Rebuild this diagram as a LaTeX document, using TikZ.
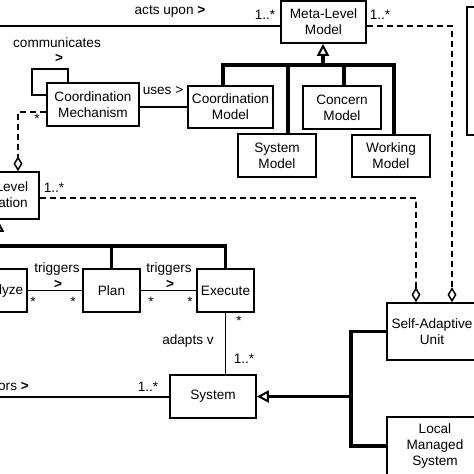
\documentclass[tikz,border=0pt]{standalone}
\usepackage{fontspec}
\setmainfont{Liberation Sans}
\usetikzlibrary{arrows.meta}
\newcommand{\diafont}{\fontsize{13.6}{16}\selectfont}
\begin{document}
\begin{tikzpicture}[x=1pt,y=-1pt,
  box/.style={draw, line width=1.6pt, inner sep=0pt, align=center, font=\diafont},
  lbl/.style={inner sep=0pt, font=\diafont},
  thin/.style={line width=1.6pt},
  thk/.style={line width=3.2pt},
  dsh/.style={line width=1.6pt, dash pattern=on 6pt off 4pt},
  agg/.style={-{Diamond[open, length=15pt, width=9pt, line width=1.5pt]}},
  gen/.style={-{Triangle[open, length=12pt, width=12pt, line width=2pt]}}]
\useasboundingbox (0,0) rectangle (474,474);
\clip (0,0) rectangle (474,474);
% boxes
\node[box, minimum width=85pt, minimum height=42pt] (mlm) at (323.5,22) {Meta-Level\\Model};
\node[box, minimum width=92pt, minimum height=43pt] (cmech) at (93,104.5) {Coordination\\Mechanism};
\node[box, minimum width=85pt, minimum height=42pt] (cmod) at (230.5,107) {Coordination\\Model};
\node[box, minimum width=78pt, minimum height=43pt] (conc) at (342,107.5) {Concern\\Model};
\node[box, minimum width=78pt, minimum height=43pt] (smod) at (277,155.5) {System\\Model};
\node[box, minimum width=78pt, minimum height=42pt] (wmod) at (391,156) {Working\\Model};
\node[box, minimum width=89pt, minimum height=47pt] (mla) at (-5.5,195.5) {Meta-Level\\Application};
\node[box, minimum width=30pt, minimum height=128pt] (rbox) at (482,71) {};
\node[box, minimum width=56pt, minimum height=43pt] (ana) at (-1,290.5) {Analyze};
\node[box, minimum width=57pt, minimum height=43pt] (plan) at (111.5,290.5) {Plan};
\node[box, minimum width=57pt, minimum height=43pt] (exec) at (225.5,290.5) {Execute};
\node[box, minimum width=86pt, minimum height=43pt] (sys) at (213,396.5) {System};
\node[box, minimum width=90pt, minimum height=57pt] (sau) at (432,331.5) {Self-Adaptive\\Unit};
\node[box, minimum width=96pt, minimum height=58pt] (lms) at (435,446) {Local\\Managed\\System};
% free ends and junctions
\coordinate (au) at (-10,26);
\coordinate (mon) at (-10,397);
\coordinate (mbus) at (323,65);
\coordinate (b1) at (223,65);
\coordinate (b2) at (288,65);
\coordinate (b3) at (344,65);
\coordinate (b4) at (394,65);
\coordinate (busL) at (-10,246);
\coordinate (gtri) at (-2,246);
\coordinate (gj) at (351,396.5);
% meta-level model generalization
\draw[thk, gen] (mbus) -- (mbus |- mlm.south);
\draw[thk] (cmod.north -| b1) |- (b4) -- (wmod.north -| b4);
\draw[thk] (b2) -- (smod.north -| b2);
\draw[thk] (b3) -- (conc.north -| b3);
% acts upon
\draw[thin] (au) -- (au -| mlm.west);
\node[lbl] (l1) at (170,12) {acts upon \textbf{>}};
\node[lbl] (l2) at (265,15) {1..*};
\node[lbl] (l3) at (380,15) {1..*};
% communicates loop
\draw[thin] (cmech.west |- 0,95) -| (32,69) -| ([xshift=-25pt]cmech.north);
\node[lbl] (l4) at (57,43) {communicates};
\node[lbl] (l5) at (59,58) {\textbf{>}};
% uses
\draw[thin] (cmod.west -| cmech.east) -- (cmod.west);
\node[lbl] (l6) at (163,91) {uses >};
% dashed aggregations
\draw[dsh, agg] (cmech.west |- 0,112) -| (mla.north -| 18,0);
\node[lbl] (l7) at (37,119) {*};
\draw[dsh, agg] (mla.east |- 0,198) -| (sau.north -| 416,0);
\node[lbl] (l8) at (54,188) {1..*};
\draw[dsh, agg] (mlm.east |- 0,26) -| (sau.north -| 452,0);
% MAPE generalization
\draw[thk] (busL) -| (exec.north);
\draw[thk] (plan.north) -- (plan.north |- busL);
\draw[thk, gen] (gtri) -- (gtri |- mla.south);
% triggers
\draw[thin] (ana.east) -- (plan.west);
\node[lbl] (l9) at (57,269) {triggers};
\node[lbl] (l10) at (58,284) {\textbf{>}};
\node[lbl] (l11) at (33,302) {*};
\node[lbl] (l12) at (73,302) {*};
\draw[thin] (plan.east) -- (exec.west);
\node[lbl] (l13) at (169,269) {triggers};
\node[lbl] (l14) at (170,284) {\textbf{>}};
\node[lbl] (l15) at (151,302) {*};
\node[lbl] (l16) at (190,302) {*};
% adapts
\draw[thin] (exec.south) -- (sys.north -| exec.south);
\node[lbl] (l17) at (239,321) {*};
\node[lbl] (l18) at (188,341) {adapts v};
\node[lbl] (l19) at (244,359) {1..*};
% monitors
\draw[thin] (mon) -- (mon -| sys.west);
\node[lbl, anchor=east] (l20) at (29,386) {monitors \textbf{>}};
\node[lbl] (l21) at (148,387) {1..*};
% system generalization
\draw[thk, gen] (gj) -- (sys.east);
\draw[thk] (sau.west) -| (gj) |- (lms.west);
\end{tikzpicture}
\end{document}
